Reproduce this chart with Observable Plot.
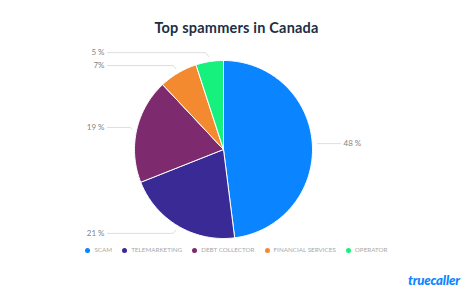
<!DOCTYPE html>
<html>
<head>
<meta charset="utf-8">
<script src="https://cdn.jsdelivr.net/npm/d3@7"></script>
<script src="https://cdn.jsdelivr.net/npm/@observablehq/plot@0.6"></script>
<style>
  html, body { margin: 0; padding: 0; background: #fff; }
  #wrap { position: relative; width: 473px; height: 299px; overflow: hidden; font-family: Lato, "Open Sans", sans-serif; }
  #title { position: absolute; top: 19px; left: 0; width: 473px; text-align: center; font-weight: 700; font-size: 14.5px; line-height: 18px; color: #1b2f45; letter-spacing: 0.2px; }
  #chart { position: absolute; top: 44px; left: 0; }
  #legend { position: absolute; top: 244px; left: 0; width: 473px; height: 12px; display: flex; justify-content: center; gap: 10px; font-size: 6.3px; line-height: 12px; color: #a9a9a9; }
  #legend .item { display: flex; align-items: center; gap: 4px; }
  #legend .dot { width: 5px; height: 5px; border-radius: 50%; display: inline-block; }
  #logo { position: absolute; top: 272px; left: 408px; font-size: 13.2px; font-weight: 900; font-style: italic; color: #0a85ff; letter-spacing: -0.2px; }
</style>
</head>
<body>
<div id="wrap">
  <div id="title">Top spammers in Canada</div>
  <div id="chart"></div>
  <div id="legend"></div>
  <div id="logo">truecaller</div>
</div>
<script>
// ---- data ----
const categories = ["SCAM", "TELEMARKETING", "DEBT COLLECTOR", "FINANCIAL SERVICES", "OPERATOR"];
const shares = [48, 21, 19, 7, 5];
const shareLabels = ["48 %", "21 %", "19 %", "7%", "5 %"];
const colors = ["#0a85ff", "#3a2a95", "#7d2a6e", "#f48a2f", "#16f07c"];

// ---- layout (pixels) ----
const W = 473, H = 200, R = 89, CX = 223, CY = 105;
const labelShiftPx = [0, 3, -1.5, -3, -4];   // vertical nudges to label rows
const leftLabelX = 107, rightLabelX = 340;   // ends of horizontal leaders

const pie = d3.pie().sort(null).value(d => d.v)(categories.map((c, i) => ({c, v: shares[i], i})));

// slice polygons in radius units
const slicePts = [];
pie.forEach(a => {
  const n = Math.max(2, Math.ceil((a.endAngle - a.startAngle) / (Math.PI / 180)));
  slicePts.push({key: a.data.c, x: 0, y: 0});
  for (let k = 0; k <= n; k++) {
    const t = a.startAngle + (a.endAngle - a.startAngle) * k / n;
    slicePts.push({key: a.data.c, x: Math.sin(t), y: Math.cos(t)});
  }
  slicePts.push({key: a.data.c, x: 0, y: 0});
});

// connectors and labels
const connPts = [];
const labels = [];
pie.forEach(a => {
  const i = a.data.i;
  const mid = (a.startAngle + a.endAngle) / 2;
  const r0 = (R + 5) / R;
  const x0 = Math.sin(mid) * r0, y0 = Math.cos(mid) * r0;
  const ly = y0 - labelShiftPx[i] / R;
  const right = Math.sin(mid) > 0;
  const xEnd = ((right ? rightLabelX : leftLabelX) - CX) / R;
  const xElbow = x0 + (right ? 1 : -1) * (Math.abs(ly - y0) * 0.8);
  connPts.push({key: a.data.c, x: x0, y: y0});
  connPts.push({key: a.data.c, x: xElbow, y: ly});
  connPts.push({key: a.data.c, x: xEnd, y: ly});
  labels.push({text: shareLabels[i], x: xEnd + (right ? 3 : -3) / R, y: ly, anchor: right ? "start" : "end"});
});

const plot = Plot.plot({
  width: W, height: H, margin: 0,
  style: {background: "transparent", fontFamily: "Lato, 'Open Sans', sans-serif"},
  x: {domain: [-CX / R, (W - CX) / R], axis: null},
  y: {domain: [-(H - CY) / R, CY / R], axis: null},
  color: {domain: categories, range: colors},
  marks: [
    Plot.line(connPts, {x: "x", y: "y", z: "key", stroke: "#d6d6d6", strokeWidth: 0.8, curve: "linear"}),
    Plot.line(slicePts, {x: "x", y: "y", z: "key", fill: "key", stroke: "white", strokeWidth: 1, strokeLinejoin: "round", curve: "linear"}),
    Plot.text(labels.filter(d => d.anchor === "start"), {x: "x", y: "y", text: "text", textAnchor: "start", fill: "#858585", fontSize: 8}),
    Plot.text(labels.filter(d => d.anchor === "end"), {x: "x", y: "y", text: "text", textAnchor: "end", fill: "#858585", fontSize: 8})
  ]
});
document.getElementById("chart").appendChild(plot);

const legend = document.getElementById("legend");
categories.forEach((c, i) => {
  const item = document.createElement("div");
  item.className = "item";
  const dot = document.createElement("span");
  dot.className = "dot";
  dot.style.background = colors[i];
  const t = document.createElement("span");
  t.textContent = c;
  item.appendChild(dot);
  item.appendChild(t);
  legend.appendChild(item);
});
</script>
</body>
</html>
